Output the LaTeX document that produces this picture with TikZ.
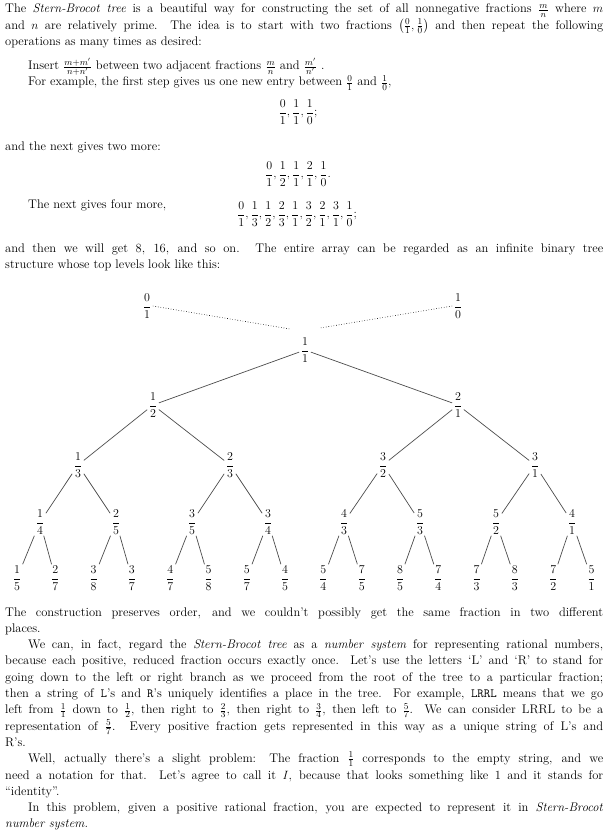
\documentclass[tikz,border=0pt]{standalone}
\usepackage{amsmath}
\begin{document}
\begin{tikzpicture}[x=1pt,y=-1pt,
  para/.style={anchor=north west,inner sep=0pt,text width=598pt,align=justify,font=\fontsize{12.5}{16.3}\selectfont},
  line/.style={anchor=base west,inner sep=0pt,font=\fontsize{12.5}{16.3}\selectfont},
  disp/.style={anchor=center,inner sep=0pt,font=\fontsize{12}{16.3}\selectfont},
  fr/.style={inner sep=1.5pt,font=\fontsize{12}{14}\selectfont},
  edge/.style={draw=black!70,line width=0.7pt},
  dots/.style={draw,dotted,line width=0.6pt}]
\useasboundingbox (0,0) rectangle (610,840);
\node[para] (p1) at (5,4) {\parindent0pt The \emph{Stern-Brocot tree} is a beautiful way for constructing the set of all nonnegative fractions $\frac mn$ where $m$\linebreak and $n$ are relatively prime. The idea is to start with two fractions $\left(\frac01,\frac10\right)$ and then repeat the following\linebreak operations as many times as desired:};
\node[line] (l1) at (28,70) {Insert $\frac{m+m'}{n+n'}$ between two adjacent fractions $\frac mn$ and $\frac{m'}{n'}$ .};
\node[line] (l2) at (28,86) {For example, the first step gives us one new entry between $\frac01$ and $\frac10$,};
\node[disp] (d1) at (298,112) {$\dfrac01,\dfrac11,\dfrac10;$};
\node[line] (l3) at (5,150) {and the next gives two more:};
\node[disp] (d2) at (298,174) {$\dfrac01,\dfrac12,\dfrac11,\dfrac21,\dfrac10.$};
\node[line] (l4) at (28,208) {The next gives four more,};
\node[disp] (d3) at (297,214) {$\dfrac01,\dfrac13,\dfrac12,\dfrac23,\dfrac11,\dfrac32,\dfrac21,\dfrac31,\dfrac10;$};
\node[para] (p2) at (5,243) {\parindent0pt and then we will get 8, 16, and so on. The entire array can be regarded as an infinite binary tree\linebreak structure whose top levels look like this:};
% tree
\node[fr] (a) at (147,306) {$\dfrac01$};
\node[fr] (b) at (458,306) {$\dfrac10$};
\node[fr] (r) at (305,350) {$\dfrac11$};
\coordinate (ca) at (290,329);
\coordinate (cb) at (320,328);
\draw[dots] (a.east) -- (ca);
\draw[dots] (b.west) -- (cb);
\node[fr] (n12) at (153,405) {$\dfrac12$};
\node[fr] (n21) at (458,405) {$\dfrac21$};
\node[fr] (n13) at (78,465) {$\dfrac13$};
\node[fr] (n23) at (230,465) {$\dfrac23$};
\node[fr] (n32) at (383,465) {$\dfrac32$};
\node[fr] (n31) at (535,465) {$\dfrac31$};
\foreach \nm/\t [count=\i] in {n14/\dfrac14,n25/\dfrac25,n35/\dfrac35,n34/\dfrac34,n43/\dfrac43,n53/\dfrac53,n52/\dfrac52,n41/\dfrac41}
  \node[fr] (\nm) at (40+76*\i-76,522) {$\t$};
\foreach \t [count=\i] in {\dfrac15,\dfrac27,\dfrac38,\dfrac37,\dfrac47,\dfrac58,\dfrac57,\dfrac45,\dfrac54,\dfrac75,\dfrac85,\dfrac74,\dfrac73,\dfrac83,\dfrac72,\dfrac51}
  \node[fr] (lf\i) at (17+38.3*\i-38.3,578) {$\t$};
\draw[edge] (r) -- (n12); \draw[edge] (r) -- (n21);
\draw[edge] (n12) -- (n13); \draw[edge] (n12) -- (n23);
\draw[edge] (n21) -- (n32); \draw[edge] (n21) -- (n31);
\draw[edge] (n13) -- (n14); \draw[edge] (n13) -- (n25);
\draw[edge] (n23) -- (n35); \draw[edge] (n23) -- (n34);
\draw[edge] (n32) -- (n43); \draw[edge] (n32) -- (n53);
\draw[edge] (n31) -- (n52); \draw[edge] (n31) -- (n41);
\foreach \nm [count=\i] in {n14,n25,n35,n34,n43,n53,n52,n41}{
  \pgfmathtruncatemacro\lft{2*\i-1}\pgfmathtruncatemacro\rgt{2*\i}
  \draw[edge] (\nm) -- (lf\lft); \draw[edge] (\nm) -- (lf\rgt);}
\node[para] (p3) at (5,607) {\parindent23pt\parskip0pt
The construction preserves order, and we couldn't possibly get the same fraction in two different\linebreak places.\par
We can, in fact, regard the \emph{Stern-Brocot tree} as a \emph{number system} for representing rational numbers,\linebreak because each positive, reduced fraction occurs exactly once. Let's use the letters `L' and `R' to stand for\linebreak going down to the left or right branch as we proceed from the root of the tree to a particular fraction;\linebreak then a string of \texttt{L}'s and \texttt{R}'s uniquely identifies a place in the tree. For example, \texttt{LRRL} means that we go\linebreak left from $\frac11$ down to $\frac12$, then right to $\frac23$, then right to $\frac34$, then left to $\frac57$. We can consider LRRL to be a\linebreak representation of $\frac57$. Every positive fraction gets represented in this way as a unique string of L's and\linebreak R's.\par
Well, actually there's a slight problem: The fraction $\frac11$ corresponds to the empty string, and we\linebreak need a notation for that. Let's agree to call it $I$, because that looks something like 1 and it stands for\linebreak ``identity''.\par
In this problem, given a positive rational fraction, you are expected to represent it in \emph{Stern-Brocot}\linebreak \emph{number system.}};
\end{tikzpicture}
\end{document}
